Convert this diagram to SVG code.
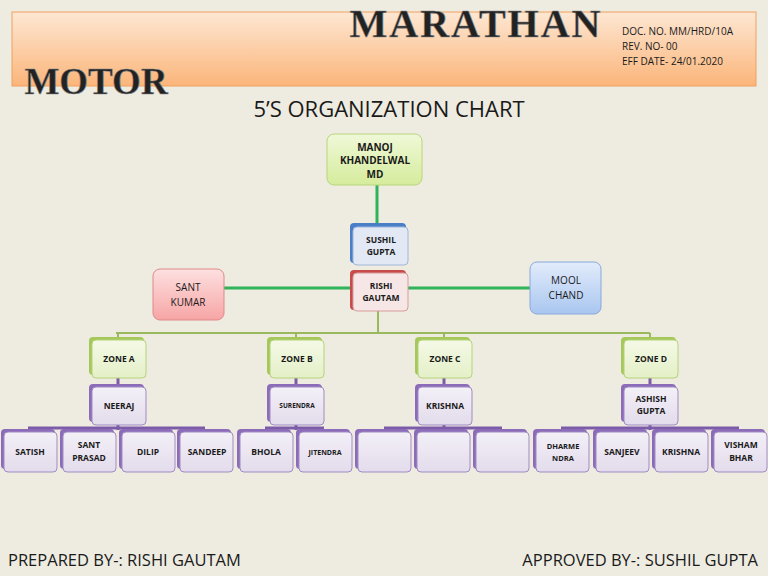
<svg xmlns="http://www.w3.org/2000/svg" width="768" height="576" viewBox="0 0 768 576">
<defs>
<linearGradient id="hdr" x1="0" y1="0" x2="0" y2="1"><stop offset="0" stop-color="#fde7d3"/><stop offset="1" stop-color="#fbb57a"/></linearGradient>
<linearGradient id="gz" x1="0" y1="0" x2="0" y2="1"><stop offset="0" stop-color="#f4f9e6"/><stop offset="1" stop-color="#e4f0c8"/></linearGradient>
<linearGradient id="pz" x1="0" y1="0" x2="0" y2="1"><stop offset="0" stop-color="#f3f0f7"/><stop offset="1" stop-color="#e3dcec"/></linearGradient>
<linearGradient id="md" x1="0" y1="0" x2="0" y2="1"><stop offset="0" stop-color="#f0f8d8"/><stop offset="1" stop-color="#d5ec9c"/></linearGradient>
<linearGradient id="rd" x1="0" y1="0" x2="0" y2="1"><stop offset="0" stop-color="#fde0e0"/><stop offset="1" stop-color="#f7a5a5"/></linearGradient>
<linearGradient id="bl" x1="0" y1="0" x2="0" y2="1"><stop offset="0" stop-color="#e2ecfb"/><stop offset="1" stop-color="#a9c6f0"/></linearGradient>
</defs>
<style>
text{font-family:"Open Sans","Liberation Sans",sans-serif;font-weight:bold;fill:#1a1a1a;text-anchor:middle}
.s{font-size:10px}.xs{font-size:8.5px}
.gb{fill:#a4c85a}.gf{fill:url(#gz);stroke:#b6d27a;stroke-width:1}
.pb{fill:#8c6cb8}.pf{fill:url(#pz);stroke:#a08bc4;stroke-width:1}
.lg{stroke:#2fb45a;stroke-width:3;fill:none}
.lo{stroke:#9ab85c;stroke-width:2;fill:none}
.lp{stroke:#7c5ca8;stroke-width:3;fill:none}
</style>
<rect width="768" height="576" fill="#eeece1"/>
<rect x="12" y="12" width="744" height="74" fill="url(#hdr)" stroke="#f0a060"/>
<text x="476" y="37" style="font-family:'Liberation Serif',serif;font-size:40px;letter-spacing:2px;fill:#222;stroke:#888;stroke-width:0.6">MARATHAN</text>
<text x="96" y="94" style="font-family:'Liberation Serif',serif;font-size:37px;fill:#222;stroke:#888;stroke-width:0.6">MOTOR</text>
<text x="622" y="35" style="text-anchor:start;font-size:10px;font-weight:normal">DOC. NO. MM/HRD/10A</text>
<text x="622" y="50" style="text-anchor:start;font-size:10px;font-weight:normal">REV. NO- 00</text>
<text x="622" y="65" style="text-anchor:start;font-size:10px;font-weight:normal">EFF DATE- 24/01.2020</text>
<text x="389" y="117" style="font-size:22px;font-weight:normal">5’S ORGANIZATION CHART</text>
<g id="connectors">
<path class="lg" d="M377 185V223M224 288H350M407 288H530"/>
<path class="lo" d="M378 311V333M116 333H650M118 333V338M296 333V338M444 333V338M650 333V338"/>
<path class="lp" d="M118 378V385M296 378V385M444 378V385M650 378V385M28 428H205M118 424V430M265 428H324M296 424V430M384 428H502M444 424V430M561 428H739M650 424V430"/>
</g>
<g id="md-node"><rect x="327" y="134" width="95" height="51" rx="7" fill="url(#md)" stroke="#b8d67a"/><text class="s" x="375" y="151">MANOJ</text><text class="s" x="375" y="164">KHANDELWAL</text><text class="s" x="375" y="178">MD</text></g>
<g id="sushil"><rect x="350" y="223" width="56" height="40" rx="4" fill="#4a7fc8"/><rect x="353" y="227" width="55" height="38" rx="4" fill="#e2e9f5" stroke="#9fb6dc"/><text class="xs" x="381" y="243">SUSHIL</text><text class="xs" x="381" y="255">GUPTA</text></g>
<g id="rishi"><rect x="350" y="270" width="56" height="40" rx="4" fill="#c84a4a"/><rect x="353" y="273" width="55" height="38" rx="4" fill="#f7e6e6" stroke="#d69a9a"/><text class="xs" x="381" y="289">RISHI</text><text class="xs" x="381" y="301">GAUTAM</text></g>
<g id="sant-kumar"><rect x="153" y="269" width="71" height="51" rx="7" fill="url(#rd)" stroke="#e08888"/><text class="s" x="188" y="291" style="font-weight:normal">SANT</text><text class="s" x="188" y="306" style="font-weight:normal">KUMAR</text></g>
<g id="mool-chand"><rect x="530" y="262" width="71" height="52" rx="7" fill="url(#bl)" stroke="#88a8dc"/><text class="s" x="566" y="284" style="font-weight:normal">MOOL</text><text class="s" x="566" y="299" style="font-weight:normal">CHAND</text></g>
<g id="zone-a"><rect class="gb" x="89" y="337" width="55" height="38" rx="4"/><rect class="gf" x="92" y="340" width="54" height="38" rx="4"/><text class="xs" x="119" y="362">ZONE A</text></g>
<g id="zone-b"><rect class="gb" x="267" y="337" width="55" height="38" rx="4"/><rect class="gf" x="270" y="340" width="54" height="38" rx="4"/><text class="xs" x="297" y="362">ZONE B</text></g>
<g id="zone-c"><rect class="gb" x="415" y="337" width="55" height="38" rx="4"/><rect class="gf" x="418" y="340" width="54" height="38" rx="4"/><text class="xs" x="445" y="362">ZONE C</text></g>
<g id="zone-d"><rect class="gb" x="621" y="337" width="55" height="38" rx="4"/><rect class="gf" x="624" y="340" width="54" height="38" rx="4"/><text class="xs" x="651" y="362">ZONE D</text></g>
<g id="neeraj"><rect class="pb" x="89" y="384" width="55" height="38" rx="4"/><rect class="pf" x="92" y="387" width="54" height="38" rx="4"/><text class="xs" x="119" y="409">NEERAJ</text></g>
<g id="surendra"><rect class="pb" x="267" y="384" width="55" height="38" rx="4"/><rect class="pf" x="270" y="387" width="54" height="38" rx="4"/><text x="297" y="408" style="font-size:6.5px">SURENDRA</text></g>
<g id="krishna-c"><rect class="pb" x="415" y="384" width="55" height="38" rx="4"/><rect class="pf" x="418" y="387" width="54" height="38" rx="4"/><text class="xs" x="445" y="409">KRISHNA</text></g>
<g id="ashish"><rect class="pb" x="621" y="384" width="55" height="38" rx="4"/><rect class="pf" x="624" y="387" width="54" height="38" rx="4"/><text class="xs" x="651" y="402">ASHISH</text><text class="xs" x="651" y="414">GUPTA</text></g>
<g id="satish"><rect class="pb" x="1" y="429" width="54" height="40" rx="4"/><rect class="pf" x="4" y="432" width="53" height="40" rx="4"/><text class="xs" x="30" y="455">SATISH</text></g>
<g id="sant-prasad"><rect class="pb" x="60" y="429" width="54" height="40" rx="4"/><rect class="pf" x="63" y="432" width="53" height="40" rx="4"/><text class="xs" x="89" y="448">SANT</text><text class="xs" x="89" y="461">PRASAD</text></g>
<g id="dilip"><rect class="pb" x="119" y="429" width="54" height="40" rx="4"/><rect class="pf" x="122" y="432" width="53" height="40" rx="4"/><text class="xs" x="148" y="455">DILIP</text></g>
<g id="sandeep"><rect class="pb" x="177" y="429" width="54" height="40" rx="4"/><rect class="pf" x="180" y="432" width="53" height="40" rx="4"/><text class="xs" x="207" y="455">SANDEEP</text></g>
<g id="bhola"><rect class="pb" x="237" y="429" width="54" height="40" rx="4"/><rect class="pf" x="240" y="432" width="53" height="40" rx="4"/><text class="xs" x="266" y="455">BHOLA</text></g>
<g id="jitendra"><rect class="pb" x="296" y="429" width="54" height="40" rx="4"/><rect class="pf" x="299" y="432" width="53" height="40" rx="4"/><text x="325" y="455" style="font-size:7px">JITENDRA</text></g>
<g id="blank1"><rect class="pb" x="355" y="429" width="54" height="40" rx="4"/><rect class="pf" x="358" y="432" width="53" height="40" rx="4"/></g>
<g id="blank2"><rect class="pb" x="414" y="429" width="54" height="40" rx="4"/><rect class="pf" x="417" y="432" width="53" height="40" rx="4"/></g>
<g id="blank3"><rect class="pb" x="473" y="429" width="54" height="40" rx="4"/><rect class="pf" x="476" y="432" width="53" height="40" rx="4"/></g>
<g id="dharmendra"><rect class="pb" x="533" y="429" width="54" height="40" rx="4"/><rect class="pf" x="536" y="432" width="53" height="40" rx="4"/><text x="563" y="449" style="font-size:7.5px">DHARME</text><text x="563" y="461" style="font-size:7.5px">NDRA</text></g>
<g id="sanjeev"><rect class="pb" x="593" y="429" width="54" height="40" rx="4"/><rect class="pf" x="596" y="432" width="53" height="40" rx="4"/><text class="xs" x="622" y="455">SANJEEV</text></g>
<g id="krishna-d"><rect class="pb" x="652" y="429" width="54" height="40" rx="4"/><rect class="pf" x="655" y="432" width="53" height="40" rx="4"/><text class="xs" x="681" y="455">KRISHNA</text></g>
<g id="visham"><rect class="pb" x="711" y="429" width="54" height="40" rx="4"/><rect class="pf" x="714" y="432" width="53" height="40" rx="4"/><text class="xs" x="741" y="448">VISHAM</text><text class="xs" x="741" y="461">BHAR</text></g>
<text x="8" y="566" style="text-anchor:start;font-size:16.5px;font-weight:normal">PREPARED BY-:  RISHI GAUTAM</text>
<text x="758" y="566" style="text-anchor:end;font-size:16.5px;font-weight:normal">APPROVED BY-:  SUSHIL GUPTA</text>
</svg>
